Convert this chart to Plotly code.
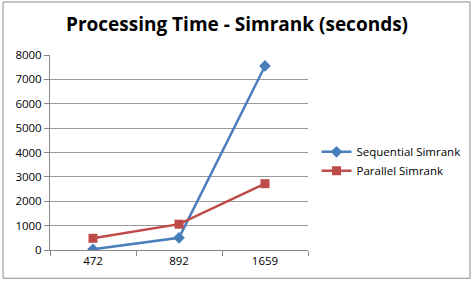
import plotly.graph_objects as go

categories = ["472", "892", "1659"]
sequential = [30, 500, 7550]
parallel = [480, 1060, 2720]
y_ticks = [0, 1000, 2000, 3000, 4000, 5000, 6000, 7000, 8000]

fig = go.Figure()
fig.add_trace(go.Scatter(x=categories, y=sequential, name="Sequential Simrank",
                         mode="lines+markers",
                         line=dict(color="#4A7EBB", width=2.5),
                         marker=dict(symbol="diamond", size=9, color="#4A7EBB")))
fig.add_trace(go.Scatter(x=categories, y=parallel, name="Parallel Simrank",
                         mode="lines+markers",
                         line=dict(color="#BE4B48", width=2.5),
                         marker=dict(symbol="square", size=9, color="#BE4B48")))

fig.update_layout(
    width=474, height=283,
    margin=dict(l=50, r=166, t=55, b=33, autoexpand=False),
    paper_bgcolor="white", plot_bgcolor="white",
    font=dict(family="Open Sans, Liberation Sans, sans-serif", size=11, color="black"),
    title=dict(text="<b>Processing Time - Simrank (seconds)</b>",
               x=0.5, xanchor="center", y=0.915, yanchor="middle",
               font=dict(size=19, family="Open Sans, sans-serif", color="black")),
    legend=dict(x=1.033, y=0.455, xanchor="left", yanchor="middle",
                bgcolor="rgba(0,0,0,0)", font=dict(size=11.5),
                itemwidth=30),
    showlegend=True,
)
fig.update_xaxes(type="category", tickson="boundaries", ticks="outside", ticklen=5,
                 tickcolor="#888888", showline=True, linecolor="#888888", linewidth=1,
                 showgrid=False, range=[-0.5, 2.5], tickfont=dict(size=11.5))
fig.update_yaxes(range=[0, 8000], tickvals=y_ticks, ticks="outside", ticklen=5,
                 tickcolor="#888888", showline=True, linecolor="#888888", linewidth=1,
                 showgrid=True, gridcolor="#999999", gridwidth=1, zeroline=False,
                 tickfont=dict(size=11.5))

# chart frame
fig.add_shape(type="rect", xref="paper", yref="paper",
              x0=-0.182, x1=1.628, y0=-0.145, y1=1.272,
              line=dict(color="#8c8c8c", width=1), fillcolor="rgba(0,0,0,0)", layer="below")

fig.write_html("out.html")
